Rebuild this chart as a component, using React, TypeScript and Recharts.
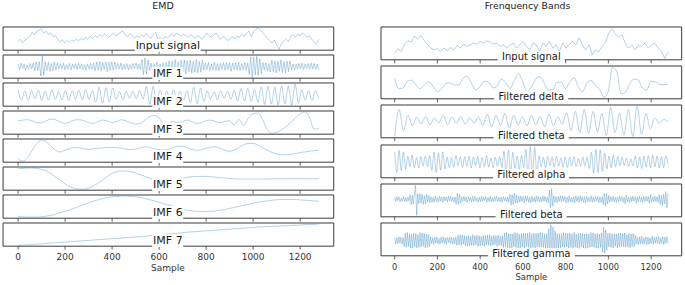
import React from 'react';
import { LineChart, Line, XAxis, YAxis, ReferenceArea } from 'recharts';

const SAMPLE_TICKS = [0, 200, 400, 600, 800, 1000, 1200];
const LAST_SAMPLE = 1279;

const EMD_LABELS = ['Input signal', 'IMF 1', 'IMF 2', 'IMF 3', 'IMF 4', 'IMF 5', 'IMF 6', 'IMF 7'];
const BAND_LABELS = ['Input signal', 'Filtered delta', 'Filtered theta', 'Filtered alpha', 'Filtered beta', 'Filtered gamma'];

const EMD_INPUT = [25,32,22,30,35,40,52,45,55,58,62,50,55,45,50,40,42,32,25,30,22,28,24,30,26,32,28,35,30,38,32,40,35,42,38,45,40,48,42,38,45,50,42,47,52,55,45,40,48,42,35,42,38,45,40,48,42,35,45,52,32,38,30,40,35,42,47,40,50,45,40,47,42,38,45,40,35,42,38,32,40,50,42,38,44,50,38,32,40,35,28,35,40,32,42,38,46,40,50,55,40,52,60,64,58,50,42,35,28,22,30,15,4,20,25,32,25,40,45,38,47,42,50,45,38,42,32,25,18,32];

const IMF1 = [6,-8,9,-5,7,-9,4,-7,8,-6,9,
-11,12,-10,13,
-24,27,-22,
13,-10,11,-12,8,-11,12,-9,10,
-7,8,-6,9,-8,5,-7,8,-9,6,-5,8,-7,9,-6,7,-8,5,-9,7,-6,8,-7,9,
-11,12,-9,13,-12,10,-8,12,-13,11,-10,12,-9,11,
-7,8,-6,9,-8,6,-7,8,-9,5,-7,8,-6,9,-7,6,-8,
18,-21,22,-19,17,
-10,9,-11,8,-9,12,-10,7,-9,10,-8,11,-9,
15,-17,14,-16,18,-15,13,-17,16,-14,17,-18,15,-13,16,-17,14,-15,18,-16,13,-15,17,
-9,10,-8,11,-10,7,-9,12,-10,8,-11,9,-7,10,-9,11,-8,10,-12,9,-8,10,-9,11,-10,8,-9,11,-10,9,
-20,25,-27,24,-22,26,-23,20,-18,
11,-9,10,-11,8,
-14,16,-13,15,-16,14,-12,17,-15,13,-16,14,-13,15,
-8,7,-9,6,-7,8,-6,9,-8,7,-5,8,-7,9,-6,8,-7,6,-8];

const IMF2 = [15,-14,12,-15,13,-10,14,-15,11,-13,15,-12,10,-14,13,-15,12,-11,14,-13,15,-12,13,
-20,22,-23,21,-19,20,
-12,10,-13,11,-9,12,-10,13,-11,
24,-26,25,-22,
14,-15,12,-16,15,-13,11,-14,13,
-21,22,-24,20,-18,
12,-11,10,-13,12,-9,11,-12,13,
-17,18,-16,19,-18,15,
-20,23,-26,24,-25,22,-27,26,-24,25,-28,31,
-22,15,-14,13,-15,12,-10];

const IMF3 = [40,42,43,40,34,34,40,45,43,36,32,36,42,43,40,34,32,37,42,40,34,38,43,40,34,30,32,42,52,56,48,30,32,38,34,38,42,37,32,34,40,42,38,34,38,40,28,44,26,48,60,63,45,15,3,5,12,22,34,48,60,66,52,15,17];

const IMF4 = [15,8,18,40,60,70,65,52,40,35,40,45,48,47,44,43,44,46,47,48,48,48,46,43,42,43,47,50,49,45,41,40,43,48,51,52,48,43,40,42,46,49,50,46,40,37,40,48,56,60,60,56,48,40,34,29,27,27,28,30,33,35,37,39,40];

const IMF5 = [65,66,67,67,66,63,58,50,40,30,20,12,6,4,4,7,13,22,32,42,51,56,58,58,56,52,47,42,37,33,30,28,28,30,33,36,39,41,42,42,42,41,40,38,37,36,35,34,34,34,34,34,34,34,35,35,35,35,35,35,35,35,35,35,35];

const IMF6 = [6,5,4,4,4,5,7,9,13,17,21,25,30,35,40,45,50,54,58,61,63,64,65,65,64,63,61,58,55,51,47,43,39,35,31,27,24,22,21,20,20,21,22,24,26,29,32,35,38,41,44,47,49,51,53,54,55,55,55,55,54,53,52,51,50];

const IMF7 = [2,2.5,3,4,5,6,7,8,9,10,11,12,13,14,15,16,17,18,19,20,21,22,23,24,25,26,27,28,30,31,32,34,35,36,37,39,40,41,42,43,44,45,46,47,48,49,50,51,52,53,54,55,56,56.5,57,58,58.5,59,60,60.5,61,62,62.5,63,64];

const BAND_INPUT = [23,36,28,50,60,56,73,66,75,60,48,38,33,36,28,38,30,40,33,46,38,50,43,48,53,50,58,53,60,56,50,53,43,48,38,48,53,38,48,58,43,33,53,48,28,53,43,58,38,48,28,53,38,48,58,48,68,48,33,48,18,33,28,43,53,83,96,80,70,78,53,38,48,33,48,43,53,38,48,53,38,30,8,26];

const DELTA = [60,33,35,53,56,43,33,44,52,39,25,33,47,49,43,43,61,66,47,30,39,53,51,35,41,59,50,34,55,74,51,26,37,58,66,48,30,30,50,51,33,51,62,38,25,49,55,41,31,10,25,90,80,19,23,45,59,57,35,29,53,52,45,44,45];

const THETA = [15,85,30,70,43,65,47,67,45,63,50,70,45,65,49,67,47,63,50,65,43,73,40,70,43,75,37,70,45,65,43,70,45,67,40,73,43,65,47,77,30,80,25,85,23,80,27,75,17,90,25,75,20,85,15,93,20,75,35,63,49,59,53];

const ALPHA = [20,-22,24,-18,21,-15,
12,-10,14,-12,9,-13,11,-8,12,-10,13,
-18,20,-22,19,-17,21,-15,
10,-12,9,-11,13,-8,10,-12,11,-9,12,-13,10,-8,11,-12,9,-10,13,-11,8,-12,10,-9,11,-12,
22,-26,25,-24,20,
-14,12,-15,13,-12,
26,-30,32,-28,30,-25,
12,-10,9,-12,11,-8,10,-11,12,-9,8,-11,10,-12,9,-8,11,-10,7,-9,10,-8,9,
-14,20,-24,26,-22,25,-20,18,
-15,12,-13,14,-10,11,
-8,9,-7,8,-9,6,-8,
12,-13,10,-14,12,-11,13,-12,14,-10,12,-13,11,-12,13,-5];

const BETA = [5,-6,7,-4,6,-7,3,-5,7,-6,4,-7,6,-5,
12,-14,10,-13,15,
36,-42,
14,-12,15,-10,13,-14,9,-12,13,-8,11,-9,
7,-8,5,-7,8,-6,4,-7,8,-5,6,-8,7,-4,6,-7,8,-5,7,-6,5,-8,6,
-13,15,-14,12,-10,
7,-6,8,-5,6,-8,7,-4,5,-7,8,-6,7,-5,4,-8,6,-7,8,-5,6,-4,7,-8,5,-6,8,-7,4,-6,7,-5,8,-6,5,-7,6,-8,7,-4,5,-7,6,-8,
13,-15,12,-14,16,-11,12,-10,
8,-7,9,-6,7,-9,8,-5,7,-8,6,-9,8,-7,5,-8,9,-6,7,-8,6,-7,9,-5,8,-7,6,-9,
24,-22,28,-18,
9,-8,7,-9,8,-6,9,-7,8,-5,7,-9,6,-8,9,-7,5,-8,7,-9,8,-6,7,-8,9,-5,6,-8,7,-9,8,-6,5,-7,9,-8,6,-7,8,-5,7,-9,6,-8,7,
-14,16,-18,15,-12,10,
-8,7,-6,8,-7,5,-8,6,-7,9,-5,7,-8,6,-12,11,-7,5,-8,7,-6,8,-5,7,-9,6,-7,8,-6,5,-8,7,-6,8,-5,7,-11,12,-8,6,-7,8,-6,7,-8,
12,-14,10,-16,13,-12,20,-22,15];

const GAMMA = [6,-7,5,-6,7,-5,6,-7,5,
-12,14,-13,15,-11,13,-14,12,-15,14,-12,13,-14,11,-13,15,-12,14,-11,13,-14,12,-13,11,-12,
7,-6,5,-7,6,-5,7,-6,4,-7,6,-5,7,-6,5,-7,6,-4,7,-5,6,-7,5,-6,7,
-9,10,-8,11,-9,10,-7,9,-10,8,-11,9,-10,8,-9,11,-10,9,-8,10,-11,9,-10,8,-9,10,-11,9,-8,10,-9,11,-10,8,-9,10,-8,9,-11,10,-9,8,-10,9,
-13,14,-12,15,-14,13,-15,12,-14,13,-12,15,-13,14,-15,12,-14,13,-12,14,-15,13,-12,14,-13,15,-14,12,-13,14,-15,13,-12,14,-13,15,-12,14,-13,12,-14,13,-15,
22,-26,30,-24,25,-20,18,
-14,13,-15,12,-14,13,-12,15,-13,14,-12,13,-15,14,-13,12,-14,15,-13,12,-14,13,-15,14,-12,13,-14,12,-15,13,-14,12,-13,15,-12,14,-13,12,-14,13,-15,12,-13,14,
-22,25,-24,20,-18,
13,-12,14,-13,12,-14,13,-11,12,-14,13,-12,14,-11,13,-12,14,-13,11,-12,13,-14,12,-11,13,-12,10,
-7,6,-8,7,-6,8,-7,5,-6,7,-8,6,-7,5,-6,8,-7,6,-5,7,-6,8,-7,5,-6,7,-8,6,-5,7,-6];

const EMD_SERIES = [EMD_INPUT, IMF1, IMF2, IMF3, IMF4, IMF5, IMF6, IMF7];
const EMD_SMOOTH = [false, false, true, true, true, true, true, true];
const BAND_SERIES = [BAND_INPUT, DELTA, THETA, ALPHA, BETA, GAMMA];
const BAND_SMOOTH = [false, true, true, true, false, false];

const X_DOMAIN: [number, number] = [-64, 1343];
const BORDER = '#3a3a3a';
const TRACE = '#1f77b4';

function toRows(values: number[]) {
  const n = values.length;
  return values.map((v, i) => ({ s: (i * LAST_SAMPLE) / (n - 1), v }));
}

function yDomain(values: number[]): [number, number] {
  const mn = Math.min(...values);
  const mx = Math.max(...values);
  const p = (mx - mn) * 0.05;
  return [mn - p, mx + p];
}

type PanelProps = {
  values: number[];
  smooth: boolean;
  x: number;
  y: number;
  w: number;
  h: number;
  bottom: boolean;
  tickFont: number;
  tickMargin: number;
};

function Panel({ values, smooth, x, y, w, h, bottom, tickFont, tickMargin }: PanelProps) {
  const PAD = 2;
  const extra = bottom ? 24 : 6;
  const dom = yDomain(values);
  return (
    <div style={{ position: 'absolute', left: x - PAD, top: y - PAD }}>
      <LineChart
        width={w + 2 * PAD}
        height={h + PAD + extra}
        data={toRows(values)}
        margin={{ top: PAD, right: PAD, left: PAD, bottom: 0 }}
      >
        <XAxis
          xAxisId="b"
          dataKey="s"
          type="number"
          domain={X_DOMAIN}
          allowDataOverflow
          ticks={SAMPLE_TICKS}
          interval={0}
          height={extra}
          axisLine={false}
          tickLine={{ stroke: BORDER, strokeWidth: 0.8 }}
          tickSize={3.5}
          tickMargin={tickMargin}
          tick={{ fill: '#333', fontSize: tickFont }}
          tickFormatter={bottom ? (v: number) => String(v) : () => ''}
        />
        <YAxis
          yAxisId="l"
          type="number"
          domain={dom}
          allowDataOverflow
          width={0}
          hide
        />
        <Line
          xAxisId="b"
          yAxisId="l"
          dataKey="v"
          type={smooth ? 'monotone' : 'linear'}
          stroke={TRACE}
          strokeWidth={0.6}
          strokeOpacity={0.55}
          dot={false}
          activeDot={false}
          isAnimationActive={false}
        />
        <ReferenceArea
          xAxisId="b"
          yAxisId="l"
          x1={X_DOMAIN[0]}
          x2={X_DOMAIN[1]}
          y1={dom[0]}
          y2={dom[1]}
          ifOverflow="visible"
          stroke={BORDER}
          strokeWidth={1}
          fill="none"
          fillOpacity={0}
        />
      </LineChart>
    </div>
  );
}

function Txt({ cx, baseline, size, padX, bg, children, color }: any) {
  return (
    <div
      style={{
        position: 'absolute',
        left: cx,
        top: baseline - 0.846 * size - 1,
        transform: 'translateX(-50%)',
        fontSize: size,
        lineHeight: `${size}px`,
        padding: `1px ${padX}px 1px`,
        background: bg ? '#ffffff' : 'transparent',
        whiteSpace: 'nowrap',
        color: color || '#1a1a1a',
      }}
    >
      {children}
    </div>
  );
}

const L = { x: 2.5, w: 330.8, top: 27.3, step: 27.9, h: 23.2 };
const R = { x: 381, w: 300.7, top: 26.7, step: 39.3, h: 32.8 };

export default function App() {
  return (
    <div
      style={{
        position: 'absolute',
        left: 0,
        top: 0,
        width: 685,
        height: 285,
        background: '#ffffff',
        fontFamily: '"DejaVu Sans", sans-serif',
        overflow: 'hidden',
      }}
    >
      {EMD_SERIES.map((vals, i) => (
        <Panel
          key={'l' + i}
          values={vals}
          smooth={EMD_SMOOTH[i]}
          x={L.x}
          y={L.top + L.step * i}
          w={L.w}
          h={L.h}
          bottom={i === EMD_SERIES.length - 1}
          tickFont={9}
          tickMargin={4.3}
        />
      ))}
      {BAND_SERIES.map((vals, i) => (
        <Panel
          key={'r' + i}
          values={vals}
          smooth={BAND_SMOOTH[i]}
          x={R.x}
          y={R.top + R.step * i}
          w={R.w}
          h={R.h}
          bottom={i === BAND_SERIES.length - 1}
          tickFont={8.3}
          tickMargin={4.6}
        />
      ))}
      {EMD_LABELS.map((t, i) => (
        <Txt key={'ll' + i} cx={L.x + L.w / 2} baseline={L.top + L.step * i + L.h - 1.3} size={11} padX={1} bg>
          {t}
        </Txt>
      ))}
      {BAND_LABELS.map((t, i) => (
        <Txt key={'rl' + i} cx={R.x + R.w / 2} baseline={R.top + R.step * i + R.h + 1.3} size={10} padX={4} bg>
          {t}
        </Txt>
      ))}
      <Txt cx={163} baseline={9.4} size={9.5} padX={0}>EMD</Txt>
      <Txt cx={527.5} baseline={9.2} size={9.3} padX={0}>Frenquency Bands</Txt>
      <Txt cx={L.x + L.w / 2} baseline={271.6} size={9} padX={0} color="#333">Sample</Txt>
      <Txt cx={R.x + R.w / 2} baseline={280.2} size={8.5} padX={0} color="#333">Sample</Txt>
    </div>
  );
}
